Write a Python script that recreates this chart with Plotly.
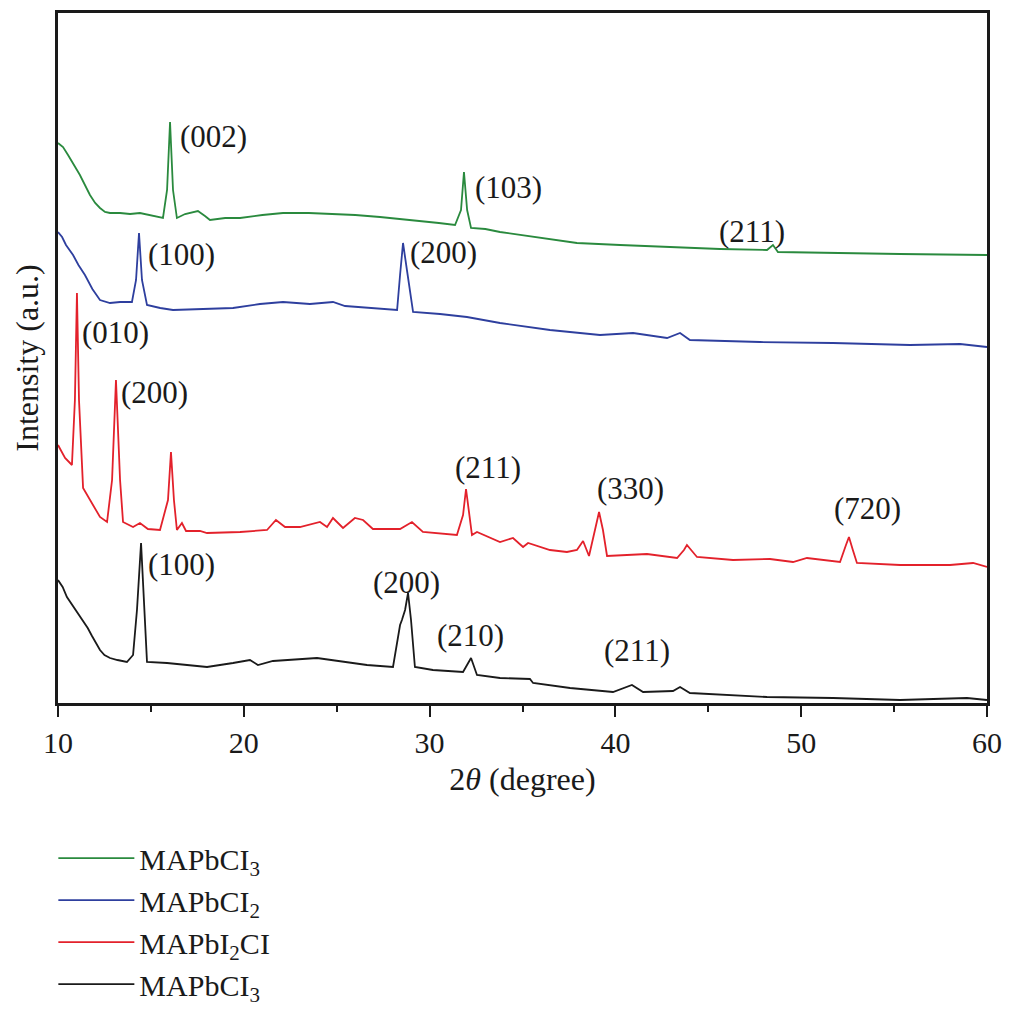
import plotly.graph_objects as go

# ---- data (2theta in degrees, intensity in a.u., stacked) ----
green_x = [10.00, 10.27, 10.54, 10.81, 11.18, 11.45, 11.72, 12.00, 12.26, 12.53, 12.80, 13.34, 13.88, 14.41,
           14.95, 15.65, 15.87, 16.03, 16.19, 16.40, 16.84, 17.26, 17.53, 17.91, 18.18, 19.00, 19.80, 21.00,
           22.11, 23.50, 24.80, 26.00, 27.33, 28.50, 29.48, 30.50, 31.37, 31.69, 31.85, 32.02, 32.23, 33.00,
           33.79, 35.94, 37.93, 40.25, 42.78, 45.63, 48.16, 48.48, 48.75, 51.71, 55.32, 60.00]
green_y = [560, 556, 548, 540, 528, 518, 508, 500, 495, 491, 490, 490, 489, 490,
           488, 485, 513, 581, 513, 485, 489, 491, 492, 487, 483, 485, 485, 488,
           490, 490, 489, 488, 486, 484, 482, 480, 478, 493, 531, 493, 475, 474,
           471, 465, 460, 458, 456, 454, 453, 458, 451, 450, 449, 448]

blue_x = [10.00, 10.22, 10.43, 10.81, 11.10, 11.45, 11.85, 12.26, 12.80, 13.34, 13.98, 14.20, 14.36, 14.52,
          14.79, 15.50, 16.19, 17.64, 19.42, 20.87, 22.11, 23.56, 24.80, 25.45, 26.63, 27.50, 28.25, 28.41,
          28.57, 28.78, 29.11, 30.56, 32.01, 33.79, 36.48, 39.17, 40.95, 42.78, 43.48, 44.01, 47.78, 51.71,
          55.85, 58.55, 60.00]
blue_y = [471, 466, 458, 448, 438, 428, 414, 403, 400, 401, 401, 423, 470, 423,
          398, 395, 393, 394, 395, 399, 401, 399, 401, 397, 395, 394, 393, 428,
          460, 433, 391, 389, 386, 380, 373, 368, 370, 365, 370, 363, 361, 360,
          358, 359, 356]

red_x = [10.00, 10.38, 10.75, 10.91, 11.02, 11.13, 11.35, 11.72, 12.26, 12.64, 12.91, 13.12, 13.34, 13.50,
         14.04, 14.41, 14.84, 15.49, 15.92, 16.08, 16.24, 16.40, 16.67, 16.89, 17.64, 18.02, 19.80, 21.25,
         21.73, 22.22, 23.02, 24.10, 24.48, 24.80, 25.34, 25.98, 26.42, 26.95, 28.41, 29.05, 29.64, 31.47,
         31.80, 31.96, 32.12, 32.28, 32.55, 33.79, 34.49, 35.03, 35.30, 36.48, 37.39, 37.93, 38.26, 38.58,
         38.90, 39.12, 39.33, 39.55, 41.70, 43.32, 43.69, 43.85, 44.39, 46.33, 48.32, 49.56, 50.31, 52.09,
         52.41, 52.57, 52.78, 53.00, 55.32, 58.01, 59.25, 60.00]
red_y = [258, 245, 238, 303, 410, 303, 215, 203, 186, 181, 223, 323, 223, 181,
         176, 180, 174, 173, 203, 251, 203, 173, 180, 172, 172, 170, 171, 173,
         183, 176, 176, 181, 176, 185, 175, 185, 183, 174, 174, 181, 171, 168,
         188, 214, 188, 168, 171, 161, 165, 156, 160, 153, 151, 153, 162, 147,
         173, 191, 173, 147, 149, 145, 153, 158, 146, 143, 144, 141, 145, 141,
         158, 166, 153, 140, 138, 138, 140, 136]

black_x = [10.00, 10.25, 10.48, 10.70, 10.91, 11.13, 11.35, 11.60, 11.83, 12.05, 12.26, 12.50, 12.80, 13.20,
           13.71, 14.04, 14.25, 14.47, 14.63, 14.79, 15.87, 18.02, 19.42, 20.33, 20.76, 21.57, 23.94, 24.80,
           26.63, 28.03, 28.41, 28.51, 28.68, 28.84, 29.00, 29.21, 30.18, 31.80, 32.23, 32.55, 33.79, 35.40,
           35.57, 37.56, 39.87, 40.89, 41.49, 43.10, 43.48, 44.01, 48.16, 51.71, 55.32, 58.92, 60.00]
black_y = [123, 116, 106, 100, 95, 89, 83, 75, 67, 59, 53, 48, 45, 43,
           41, 48, 93, 160, 93, 41, 40, 36, 40, 43, 38, 42, 45, 43,
           38, 36, 78, 83, 93, 110, 83, 36, 33, 31, 45, 28, 25, 24,
           20, 15, 11, 18, 11, 12, 16, 10, 6, 5, 3, 5, 3]

series_names = ["MAPbCI<sub>3</sub>", "MAPbCI<sub>2</sub>", "MAPbI<sub>2</sub>CI", "MAPbCI<sub>3</sub>"]
series_colors = ["#2a8a3e", "#2e3f9e", "#e3212b", "#1a1a1a"]

# peak labels: (2theta, intensity, text)
label_x = [18.38, 34.22, 47.35, 16.62, 30.75, 13.07, 15.22, 33.14, 40.79, 53.59, 16.62, 28.73, 32.22, 41.16]
label_y = [567, 516, 472, 449, 451, 371, 311, 236, 215, 195, 139, 121, 68, 53]
label_text = ["(002)", "(103)", "(211)", "(100)", "(200)", "(010)", "(200)", "(211)", "(330)", "(720)",
              "(100)", "(200)", "(210)", "(211)"]

FONT = "Liberation Serif, Times New Roman, serif"

fig = go.Figure()
for xs, ys, name, col in zip([green_x, blue_x, red_x, black_x], [green_y, blue_y, red_y, black_y],
                             series_names, series_colors):
    fig.add_trace(go.Scatter(x=xs, y=ys, mode="lines", name=name,
                             line=dict(color=col, width=1.8)))

for lx, ly, lt in zip(label_x, label_y, label_text):
    fig.add_annotation(x=lx, y=ly, text=lt, showarrow=False, xref="x", yref="y",
                       font=dict(family=FONT, size=31, color="#1a1a1a"))

fig.update_layout(
    width=1016, height=1013,
    margin=dict(l=58, r=29, t=13, b=310, autoexpand=False),
    paper_bgcolor="white", plot_bgcolor="white",
    font=dict(family=FONT, color="#1a1a1a"),
    showlegend=True,
    legend=dict(x=-0.005, xanchor="left", y=-0.187, yanchor="top", yref="paper",
                font=dict(family=FONT, size=30, color="#1a1a1a"),
                bgcolor="rgba(0,0,0,0)", itemwidth=76, tracegroupgap=0),
)
fig.update_xaxes(range=[10, 60], dtick=10, tick0=10, ticks="outside", ticklen=11, tickwidth=2,
                 tickcolor="#1a1a1a", showline=True, mirror=True, linewidth=2.5, linecolor="#1a1a1a",
                 showgrid=False, zeroline=False,
                 tickfont=dict(family=FONT, size=30, color="#1a1a1a"),
                 minor=dict(ticks="outside", ticklen=6, tickwidth=2, dtick=5, tick0=10, tickcolor="#1a1a1a"),
                 title=dict(text="2<i>θ</i> (degree)", font=dict(family=FONT, size=32, color="#1a1a1a"),
                            standoff=10))
fig.update_yaxes(range=[0, 690], showticklabels=False, ticks="", showline=True, mirror=True,
                 linewidth=2.5, linecolor="#1a1a1a", showgrid=False, zeroline=False,
                 title=dict(text="Intensity (a.u.)", font=dict(family=FONT, size=32, color="#1a1a1a"),
                            standoff=8))

fig.write_html("out.html")
